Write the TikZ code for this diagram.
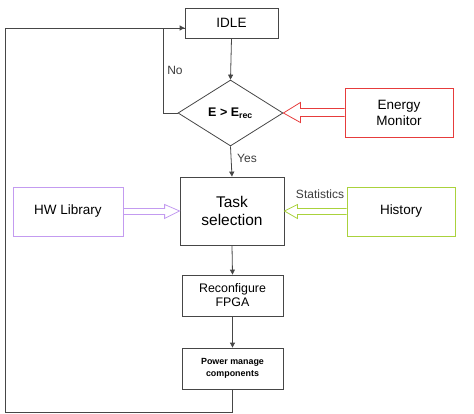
\documentclass[tikz,border=0pt]{standalone}
\usepackage{fontspec}
\setmainfont{Liberation Sans}
\usetikzlibrary{shapes.geometric,arrows.meta,calc}
\definecolor{linegray}{RGB}{70,70,70}
\definecolor{emred}{RGB}{230,60,60}
\definecolor{hwpurple}{RGB}{195,155,240}
\definecolor{histgreen}{RGB}{170,210,60}
\definecolor{txtgray}{RGB}{60,60,60}
\tikzset{
  box/.style={draw=linegray, line width=0.8pt, rectangle, inner sep=0pt, align=center, text=black},
  flow/.style={draw=linegray, line width=0.8pt},
  arr/.style={flow, -{Triangle[length=5pt,width=5pt]}},
  lbl/.style={inner sep=0pt, text=txtgray, font=\fontsize{12}{14}\selectfont},
  hollowarrow/.style n args={3}{line width=0.8pt, to path={
    let \p1=(\tikztostart), \p2=(\tikztotarget), \n1={sign(\x2-\x1)} in
    ({\x1},{\y1+#3}) -- ({\x2-\n1*#1},{\y1+#3}) -- ({\x2-\n1*#1},{\y1+#2})
    -- (\tikztotarget) -- ({\x2-\n1*#1},{\y1-#2}) -- ({\x2-\n1*#1},{\y1-#3}) -- ({\x1},{\y1-#3})}}
}
\begin{document}
\begin{tikzpicture}[x=1pt,y=-1pt]
\useasboundingbox (0,0) rectangle (474,414);
\node[box, minimum width=93pt, minimum height=30pt, font=\fontsize{13.5}{15}\selectfont] (idle) at (231.5,23) {IDLE};
\node[box, diamond, minimum width=105pt, minimum height=66pt, font=\bfseries\fontsize{12.5}{14}\selectfont] (dec) at (230.5,113) {E > E\textsubscript{rec}};
\node[box, draw=emred, minimum width=108pt, minimum height=49pt, font=\fontsize{13.5}{16}\selectfont] (em) at (399,112.5) {Energy\\Monitor};
\node[box, minimum width=104pt, minimum height=68pt, font=\fontsize{15.5}{18}\selectfont] (task) at (232,211) {Task\\selection};
\node[box, draw=hwpurple, minimum width=110pt, minimum height=49pt, font=\fontsize{13.5}{16}\selectfont] (hw) at (68,211.5) {HW Library};
\node[box, draw=histgreen, minimum width=108pt, minimum height=49pt, font=\fontsize{13.5}{16}\selectfont] (hist) at (401,211.5) {History};
\node[box, minimum width=101pt, minimum height=41pt, font=\fontsize{12.4}{14}\selectfont] (reconf) at (232.5,295.5) {Reconfigure\\FPGA};
\node[box, minimum width=101pt, minimum height=41pt, font=\bfseries\fontsize{8.9}{12}\selectfont] (power) at (232.5,368.5) {Power manage\\components};

\node[lbl] (no) at (175,70) {No};
\node[lbl] (yes) at (247,158) {Yes};
\node[lbl] (stat) at (320,194) {Statistics};

\coordinate (in) at ($(idle.west)+(0,5)$);
\coordinate (nox) at (163,0);
\coordinate (lb) at (5,412);

\draw[arr] (idle.south) -- (dec.north);
\draw[arr] (dec.south) -- (task.north);
\draw[arr] (task.south) -- (reconf.north);
\draw[arr] (reconf.south) -- (power.north);
\draw[arr] (dec.west) -| (nox |- in) -- (in);
\draw[flow] (power.south) |- (lb) |- (in);

\draw[hollowarrow={17pt}{10pt}{4pt}, draw=emred] (em.west) to (dec.east);
\draw[hollowarrow={15pt}{7pt}{3pt}, draw=hwpurple] (hw.east) to (task.west);
\draw[hollowarrow={13pt}{7pt}{3pt}, draw=histgreen] (hist.west) to (task.east);
\end{tikzpicture}
\end{document}
